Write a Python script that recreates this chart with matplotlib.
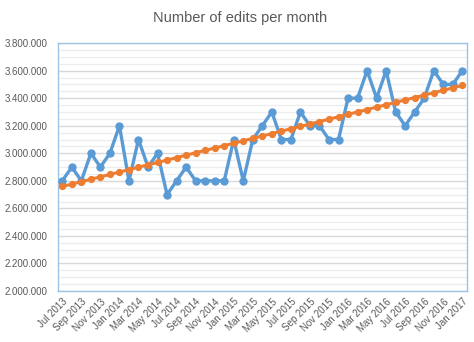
import numpy as np
import matplotlib
matplotlib.use("Agg")
import matplotlib.pyplot as plt
from matplotlib.ticker import FuncFormatter, MultipleLocator

# monthly edit counts, Jul 2013 .. Jan 2017
months = ["Jul 2013", "Aug 2013", "Sep 2013", "Oct 2013", "Nov 2013", "Dec 2013",
          "Jan 2014", "Feb 2014", "Mar 2014", "Apr 2014", "May 2014", "Jun 2014",
          "Jul 2014", "Aug 2014", "Sep 2014", "Oct 2014", "Nov 2014", "Dec 2014",
          "Jan 2015", "Feb 2015", "Mar 2015", "Apr 2015", "May 2015", "Jun 2015",
          "Jul 2015", "Aug 2015", "Sep 2015", "Oct 2015", "Nov 2015", "Dec 2015",
          "Jan 2016", "Feb 2016", "Mar 2016", "Apr 2016", "May 2016", "Jun 2016",
          "Jul 2016", "Aug 2016", "Sep 2016", "Oct 2016", "Nov 2016", "Dec 2016",
          "Jan 2017"]
edits = [2800000, 2900000, 2800000, 3000000, 2900000, 3000000,
         3200000, 2800000, 3100000, 2900000, 3000000, 2700000,
         2800000, 2900000, 2800000, 2800000, 2800000, 2800000,
         3100000, 2800000, 3100000, 3200000, 3300000, 3100000,
         3100000, 3300000, 3200000, 3200000, 3100000, 3100000,
         3400000, 3400000, 3600000, 3400000, 3600000, 3300000,
         3200000, 3300000, 3400000, 3600000, 3500000, 3500000,
         3600000]

x = np.arange(len(months))
# linear trend over the monthly values
slope, intercept = np.polyfit(x, edits, 1)
trend = slope * x + intercept

plt.rcParams['font.family'] = ['Liberation Sans', 'DejaVu Sans']
fig = plt.figure(figsize=(4.74, 3.42), dpi=100)
ax = fig.add_axes([0.1234, 0.149, 0.862, 0.725])

ax.plot(x, edits, color='#5B9BD5', lw=2.4, marker='o', ms=5, zorder=3)
ax.plot(x, trend, color='#ED7D31', lw=2.2, marker='o', ms=4.2, zorder=4)

ax.set_xlim(-0.4, len(months) - 0.5)
ax.set_ylim(2000000, 3800000)
ax.yaxis.set_major_locator(MultipleLocator(200000))
ax.yaxis.set_minor_locator(MultipleLocator(50000))
ax.yaxis.set_major_formatter(FuncFormatter(lambda v, p: f"{int(v):,}".replace(",", ".")))

ax.set_xticks(x[::2])
ax.set_xticklabels(months[::2], rotation=45, ha='right', rotation_mode='anchor')

ax.grid(axis='y', which='major', color='#d9d9d9', lw=1.0, zorder=0)
ax.grid(axis='y', which='minor', color='#ededed', lw=0.9, zorder=0)
ax.set_axisbelow(True)

ax.tick_params(axis='both', which='both', length=0, labelsize=7, colors='#595959')
ax.tick_params(axis='y', pad=8)
ax.tick_params(axis='x', pad=4)
for s in ax.spines.values():
    s.set_color('#9dc3e6')
    s.set_linewidth(1.0)

fig.suptitle("Number of edits per month", x=0.507, y=0.968, fontsize=10.5, color='#595959')

fig.savefig("out.png", dpi=100)
